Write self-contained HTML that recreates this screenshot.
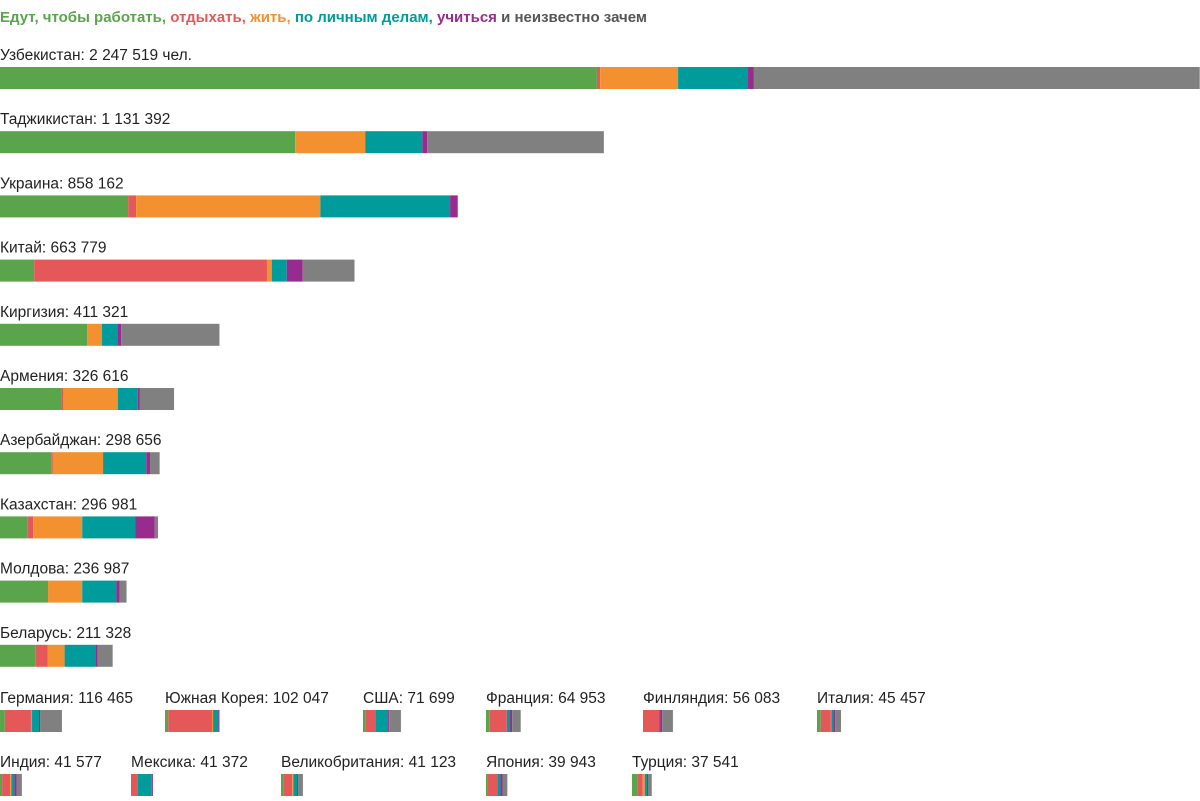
<!DOCTYPE html>
<html><head><meta charset="utf-8"><style>
body{margin:0;background:#fff;width:1200px;height:796px;overflow:hidden;font-family:"Liberation Sans",sans-serif}
svg text{font-family:"Liberation Sans",sans-serif}
</style></head><body>
<svg id="chart" width="1200" height="796" viewBox="0 0 1200 796" xmlns="http://www.w3.org/2000/svg">
<text x="0" y="22" font-size="15" font-weight="bold"><tspan fill="#5aa54b">Едут, чтобы работать, </tspan><tspan fill="#e5585a">отдыхать, </tspan><tspan fill="#f39130">жить, </tspan><tspan fill="#009c9c">по личным делам, </tspan><tspan fill="#972c8e">учиться </tspan><tspan fill="#555">и неизвестно зачем</tspan></text>
</svg>
<script>
const countries=["Узбекистан","Таджикистан","Украина","Китай","Киргизия","Армения","Азербайджан","Казахстан","Молдова","Беларусь","Германия","Южная Корея","США","Франция","Финляндия","Италия","Индия","Мексика","Великобритания","Япония","Турция"];
const totalLabels=["2 247 519 чел.","1 131 392","858 162","663 779","411 321","326 616","298 656","296 981","236 987","211 328","116 465","102 047","71 699","64 953","56 083","45 457","41 577","41 372","41 123","39 943","37 541"];
const work=[1118,553,240,64,163,116,97,51,90,67,9,6,4,7,0,7,4,0,4,2,11];
const rest=[6,0,15,436,0,2,2,11,0,22,49,82,19,32,30,19,15,13,17,19,9];
const live=[146,131,345,9,28,103,94,92,64,32,2,2,0,0,0,1,2,0,2,0,4];
const personal=[131,107,243,28,30,37,81,99,64,58,13,10,24,6,2,4,6,26,7,6,4];
const study=[11,9,13,30,6,4,7,37,6,4,2,2,2,4,4,3,4,2,2,4,2];
const unknown=[835,331,2,97,184,64,18,6,13,28,41,0,22,16,20,11,10,0,9,9,7];
const seriesNames=["work","rest","live","personal","study","unknown"];
const colors=["#5aa54b","#e5585a","#f39130","#009c9c","#972c8e","#808080"];
const maxTotal=2247.519;
const smallX=[0,165,363,486,643,817,0,131,281,486,632];
const svg=document.getElementById('chart');
const NS="http://www.w3.org/2000/svg";
function xs(v){return v/maxTotal*1200;}
const all=[work,rest,live,personal,study,unknown];
countries.forEach((c,i)=>{
  let x0,top;
  if(i<10){x0=0;top=67+i*64.2;}
  else{const j=i-10;x0=smallX[j];top=j<6?710:774;}
  const t=document.createElementNS(NS,'text');
  
  
  t.setAttribute('x',x0);t.setAttribute('y',top-7);
  t.setAttribute('font-size','15.5');t.setAttribute('fill','#222');
  t.textContent=c+': '+totalLabels[i];
  svg.appendChild(t);
  let x=x0;
  all.forEach((s,k)=>{
    const w=xs(s[i]);
    if(w<=0)return;
    const r=document.createElementNS(NS,'rect');
    
    
    r.setAttribute('x',x);r.setAttribute('y',top);
    r.setAttribute('width',w);r.setAttribute('height',22);
    r.setAttribute('fill',colors[k]);
    svg.appendChild(r);
    x+=w;
  });
});
</script>
</body></html>
